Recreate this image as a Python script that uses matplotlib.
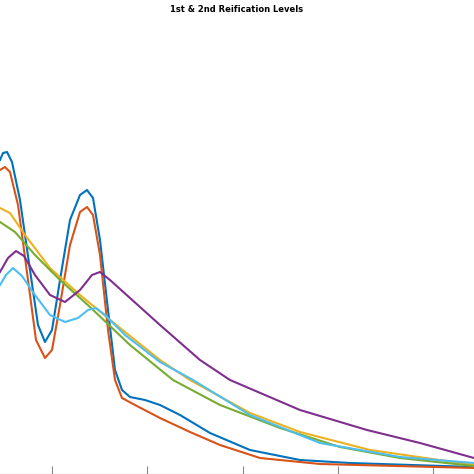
import matplotlib.pyplot as plt

# 读图估计的数据（x: 横轴单位, y: 纵轴单位，均为任意单位）
x_blue = [0, 3, 7, 12, 20, 30, 38, 45, 52, 60, 70, 80, 87, 93, 100, 108, 115, 122, 130, 145, 160, 180, 210, 250, 300, 350, 474]
y_blue = [160, 153, 152, 162, 200, 270, 325, 342, 330, 280, 220, 195, 190, 198, 240, 310, 370, 390, 397, 400, 405, 415, 433, 450, 460, 463, 467]
x_orange = [0, 5, 10, 18, 28, 36, 45, 52, 60, 70, 80, 87, 93, 100, 108, 115, 122, 135, 160, 190, 220, 260, 320, 474]
y_orange = [170, 167, 172, 205, 280, 340, 358, 350, 305, 245, 212, 207, 215, 255, 330, 380, 398, 405, 418, 432, 445, 458, 464, 468]
x_yellow = [0, 10, 25, 50, 80, 120, 160, 190, 250, 300, 370, 474]
y_yellow = [208, 213, 235, 268, 295, 328, 360, 380, 413, 432, 450, 465]
x_green = [0, 15, 35, 60, 90, 130, 173, 220, 280, 340, 400, 474]
y_green = [222, 232, 255, 280, 307, 345, 380, 405, 428, 447, 458, 466]
x_purple = [0, 8, 16, 24, 35, 50, 65, 80, 92, 100, 110, 130, 160, 200, 230, 300, 367, 420, 474]
y_purple = [272, 258, 251, 256, 275, 295, 302, 290, 275, 272, 280, 298, 325, 360, 380, 410, 430, 443, 458]
x_cyan = [0, 6, 13, 22, 35, 50, 65, 78, 88, 96, 105, 125, 160, 193, 250, 320, 400, 474]
y_cyan = [285, 275, 268, 276, 295, 315, 322, 318, 310, 308, 315, 335, 362, 380, 415, 443, 457, 463]

series = [
    (x_blue, y_blue, '#0072BD'),
    (x_orange, y_orange, '#D95319'),
    (x_yellow, y_yellow, '#EDB120'),
    (x_green, y_green, '#77AC30'),
    (x_purple, y_purple, '#7E2F8E'),
    (x_cyan, y_cyan, '#4DBEEE'),
]
tick_pos = [52, 147, 243, 338, 433]

fig = plt.figure(figsize=(4.74, 4.74), dpi=100)
ax = fig.add_axes([0, 0, 1, 1 - 15 / 474])

for xs, ys, c in series:
    ax.plot(xs, ys, color=c, linewidth=1.5)

ax.set_xlim(0, 474)
ax.set_ylim(474, 15)  # 纵轴方向按读图方式
ax.set_xticks(tick_pos)
ax.set_yticks([])
ax.tick_params(axis='x', direction='in', length=6, color='#888888',
               top=True, bottom=False, labeltop=False, labelbottom=False)
for s in ['left', 'right', 'bottom']:
    ax.spines[s].set_visible(False)
# 反转后 "bottom" 脊线在上方
ax.spines['top'].set_visible(False)
ax.spines['bottom'].set_visible(True)
ax.spines['bottom'].set_color('#888888')
ax.tick_params(axis='x', top=False, bottom=True)
ax.set_title('1st & 2nd Reification Levels', fontsize=6, fontweight='bold', pad=2)

fig.savefig('out.png', dpi=100)
